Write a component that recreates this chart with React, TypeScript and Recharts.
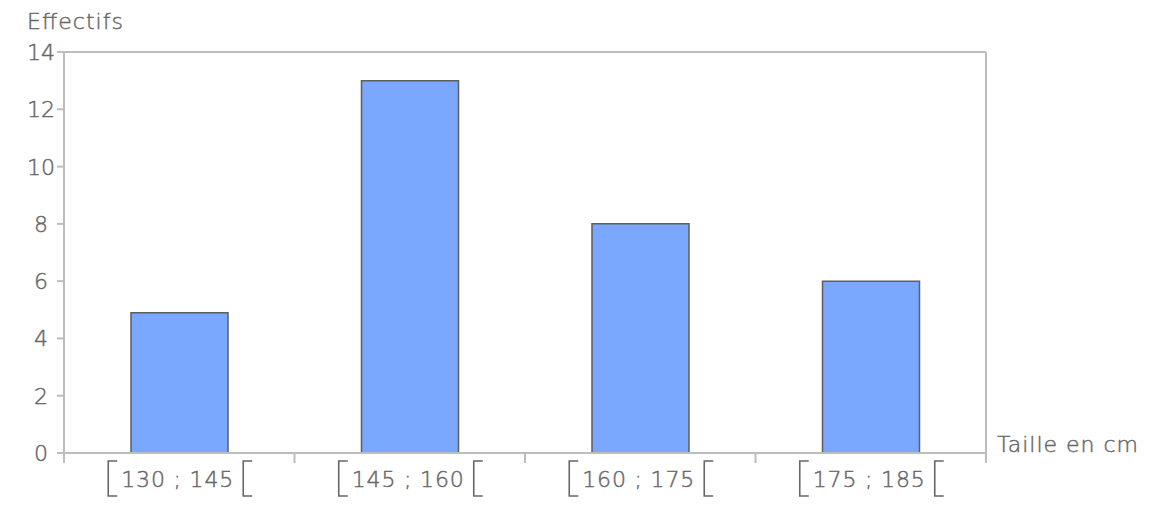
import React from 'react';
import { BarChart, Bar, XAxis, YAxis, CartesianGrid, Label } from 'recharts';

// Classes de taille (intervalles semi-ouverts) et effectifs
const classes = ['130 ; 145', '145 ; 160', '160 ; 175', '175 ; 185'];
const effectifs = [4.9, 13, 8, 6];
const yTicks = [0, 2, 4, 6, 8, 10, 12, 14];

const data = classes.map((classe, i) => ({ classe, effectif: effectifs[i] }));

const TEXT = '#676767';
const GRID = '#bdbdbd';
const textStyle = {
  fontSize: 22,
  fontFamily: '"DejaVu Sans", sans-serif',
  fontWeight: 200,
  fill: TEXT,
  stroke: TEXT,
  strokeWidth: 0.45,
};

function YTick({ x, y, payload }: any) {
  return (
    <text x={x - 14} y={y + 8} textAnchor="middle" {...textStyle}>
      {payload.value}
    </text>
  );
}

// étiquette "[a ; b[" avec de grands crochets, et graduations aux bornes de la classe
function ClassTick({ x, y, payload, index }: any) {
  const half = payload.offset || 115.25;
  const w = 112;
  const left = x - w / 2 - 2;
  const right = x + w / 2 - 2;
  const top = y + 8;
  const bottom = y + 43;
  const bracket = (bx: number) =>
    `M${bx + 9},${top} L${bx},${top} L${bx},${bottom} L${bx + 9},${bottom}`;
  return (
    <g>
      <line x1={x - half} y1={y} x2={x - half} y2={y + 10} stroke={GRID} strokeWidth={2} />
      {index === classes.length - 1 && (
        <line x1={x + half} y1={y} x2={x + half} y2={y + 10} stroke={GRID} strokeWidth={2} />
      )}
      <path d={bracket(left - 13)} fill="none" stroke={TEXT} strokeWidth={1.6} />
      <text
        x={x - 2}
        y={y + 34}
        textAnchor="middle"
        {...textStyle}
        textLength={w}
        lengthAdjust="spacing"
      >
        {payload.value}
      </text>
      <path d={bracket(right + 10)} fill="none" stroke={TEXT} strokeWidth={1.6} />
    </g>
  );
}

export default function App() {
  return (
    <div style={{ position: 'absolute', left: 0, top: 0, background: '#fff' }}>
      <BarChart
        width={1164}
        height={505}
        data={data}
        margin={{ top: 52, right: 177, bottom: 2, left: 0 }}
        barCategoryGap={0}
      >
        <CartesianGrid vertical={false} stroke={GRID} strokeWidth={2} />
        <XAxis
          dataKey="classe"
          height={50}
          interval={0}
          tickSize={0}
          tickMargin={0}
          tickLine={false}
          axisLine={{ stroke: GRID, strokeWidth: 2 }}
          tick={<ClassTick />}
        >
          <Label
            content={({ viewBox }: any) => (
              <text
                x={viewBox.x + viewBox.width + 11}
                y={viewBox.y - 1}
                {...textStyle}
                textLength={141}
                lengthAdjust="spacing"
              >
                Taille en cm
              </text>
            )}
          />
        </XAxis>
        <YAxis
          yAxisId="left"
          domain={[0, 14]}
          ticks={yTicks}
          width={64}
          tickSize={7}
          axisLine={{ stroke: GRID, strokeWidth: 2 }}
          tickLine={{ stroke: GRID, strokeWidth: 2 }}
          tick={<YTick />}
        >
          <Label
            content={({ viewBox }: any) => (
              <text
                x={viewBox.x + 27}
                y={viewBox.y - 23}
                {...textStyle}
                textLength={96}
                lengthAdjust="spacing"
              >
                Effectifs
              </text>
            )}
          />
        </YAxis>
        <YAxis
          yAxisId="right"
          orientation="right"
          domain={[0, 14]}
          width={1}
          tick={false}
          tickLine={false}
          axisLine={{ stroke: GRID, strokeWidth: 2 }}
        />
        <Bar
          dataKey="effectif"
          yAxisId="left"
          barSize={97}
          fill="#7aa7ff"
          stroke="#5e5e5e"
          strokeWidth={1.5}
          isAnimationActive={false}
        />
      </BarChart>
    </div>
  );
}
